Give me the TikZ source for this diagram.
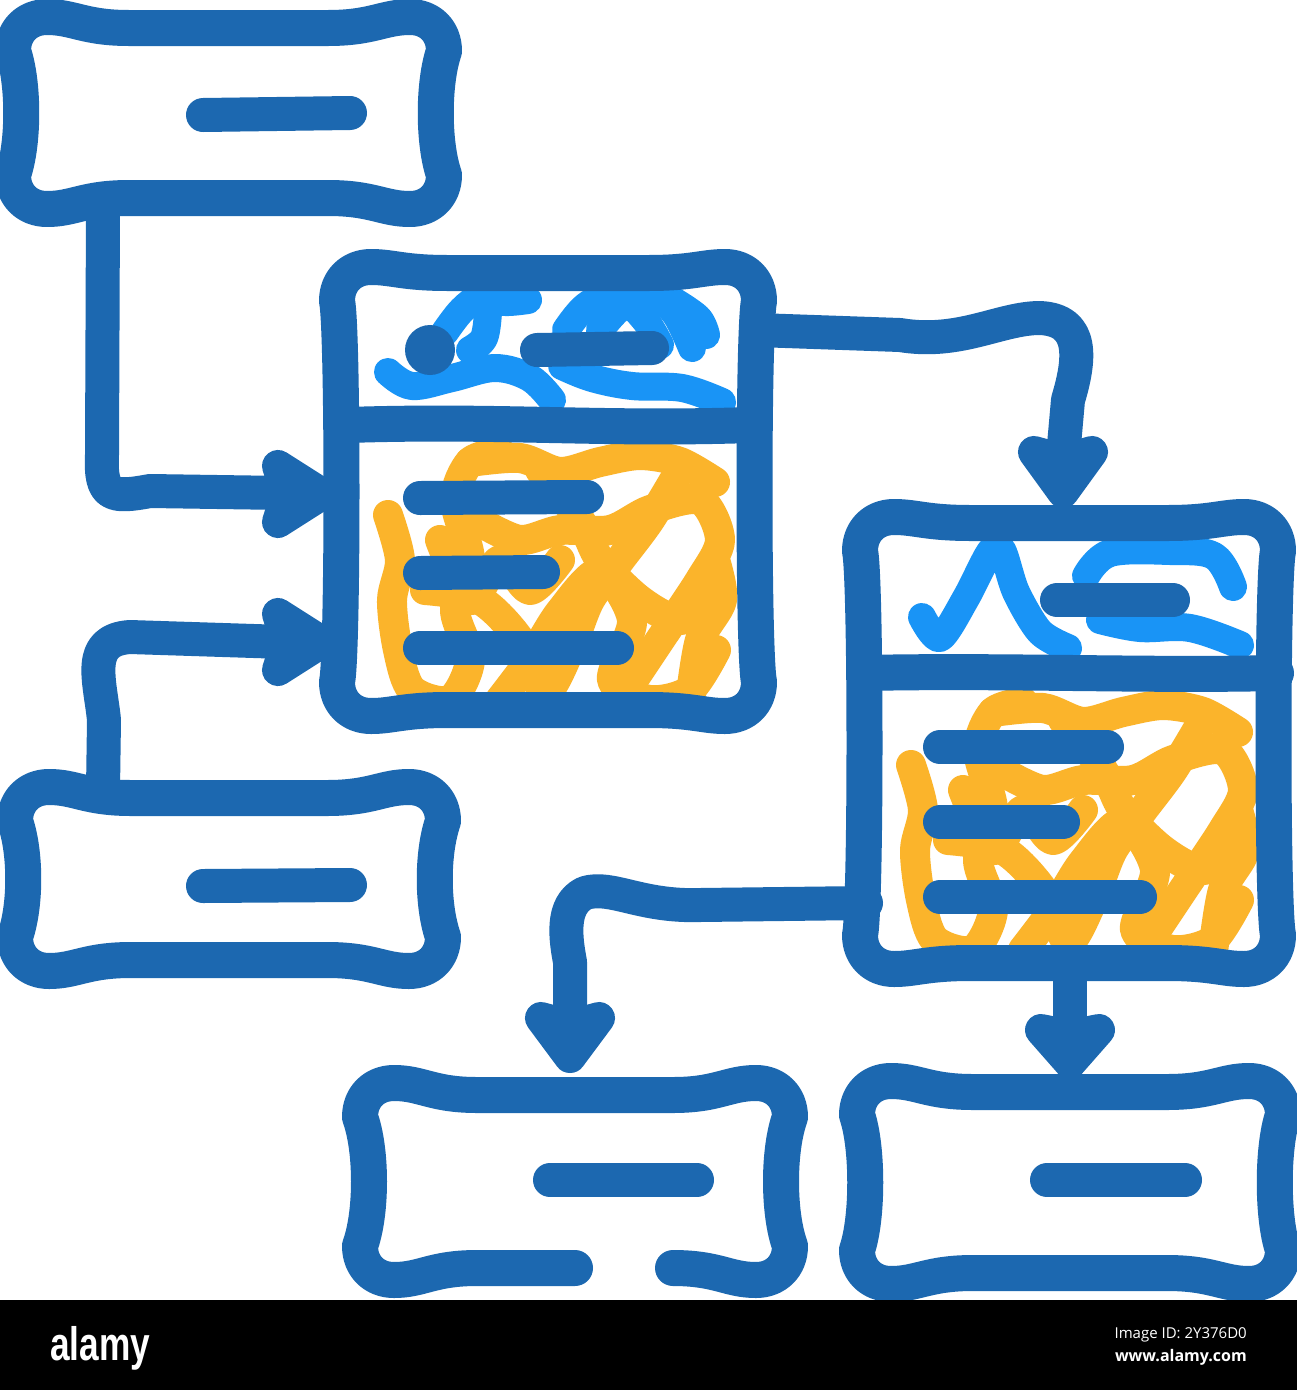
\documentclass[tikz,border=0pt]{standalone}
\usepackage{fontspec}
\setmainfont{Open Sans}
\newfontfamily\logofont{Liberation Sans}
\definecolor{dblue}{HTML}{1C68B0}
\definecolor{lblue}{HTML}{1994F6}
\definecolor{yel}{HTML}{FBB42B}
\newcommand\bonebox[5]{% L T R B flare
  \pgfmathsetmacro\bxL{#1}\pgfmathsetmacro\bxT{#2}\pgfmathsetmacro\bxR{#3}\pgfmathsetmacro\bxB{#4}\pgfmathsetmacro\bxF{#5}%
  \draw[boxline] ({\bxL-\bxF},{\bxT-\bxF+34})
   .. controls ({\bxL-\bxF},{\bxT-\bxF+14}) and ({\bxL-\bxF+14},{\bxT-\bxF}) .. ({\bxL-\bxF+34},{\bxT-\bxF})
   .. controls ({\bxL+50},{\bxT-\bxF}) and ({\bxL+60},{\bxT}) .. ({\bxL+105},{\bxT})
   -- ({\bxR-105},{\bxT})
   .. controls ({\bxR-60},{\bxT}) and ({\bxR-50},{\bxT-\bxF}) .. ({\bxR+\bxF-34},{\bxT-\bxF})
   .. controls ({\bxR+\bxF-14},{\bxT-\bxF}) and ({\bxR+\bxF},{\bxT-\bxF+14}) .. ({\bxR+\bxF},{\bxT-\bxF+34})
   .. controls ({\bxR},{\bxT+55}) and ({\bxR},{\bxB-55}) .. ({\bxR+\bxF},{\bxB+\bxF-34})
   .. controls ({\bxR+\bxF},{\bxB+\bxF-14}) and ({\bxR+\bxF-14},{\bxB+\bxF}) .. ({\bxR+\bxF-34},{\bxB+\bxF})
   .. controls ({\bxR-50},{\bxB+\bxF}) and ({\bxR-60},{\bxB}) .. ({\bxR-105},{\bxB})
   -- ({\bxL+105},{\bxB})
   .. controls ({\bxL+60},{\bxB}) and ({\bxL+50},{\bxB+\bxF}) .. ({\bxL-\bxF+34},{\bxB+\bxF})
   .. controls ({\bxL-\bxF+14},{\bxB+\bxF}) and ({\bxL-\bxF},{\bxB+\bxF-14}) .. ({\bxL-\bxF},{\bxB+\bxF-34})
   .. controls ({\bxL},{\bxB-55}) and ({\bxL},{\bxT+55}) .. cycle;}
\newcommand\yellowtangle{%
  \draw[scribY] plot[smooth, tension=0.5] coordinates {(388,515) (400,560) (392,600) (398,650) (412,690) (450,700) (470,660) (455,610) (470,560) (455,500) (470,462) (500,452)};
  \draw[scribY] plot[smooth, tension=0.5] coordinates {(470,462) (520,458) (560,472) (600,462) (640,455) (680,462) (715,482)};
  \draw[scribY] plot[smooth, tension=0.5] coordinates {(425,590) (480,600) (520,640) (545,692) (570,650) (590,600) (620,560) (650,520) (680,470)};
  \draw[scribY] plot[smooth, tension=0.5] coordinates {(500,700) (530,660) (560,612) (600,572) (632,620) (612,680) (650,700) (690,690) (716,650)};
  \draw[scribY] plot[smooth, tension=0.5] coordinates {(620,700) (660,640) (700,580) (720,540) (700,500) (650,510) (610,530) (560,530) (520,540) (480,522)};
  \draw[scribY] plot[smooth, tension=0.5] coordinates {(540,470) (580,520) (600,560) (640,600) (680,620) (716,600)};
  \draw[scribY] plot[smooth, tension=0.5] coordinates {(690,702) (700,640) (722,600) (715,560)};
  \draw[scribY] plot[smooth, tension=0.5] coordinates {(440,540) (470,600) (500,560) (530,590) (560,560)};
}
\begin{document}
\begin{tikzpicture}[x=1pt,y=-1pt,
  boxline/.style={draw=dblue, line width=36pt, line cap=round, line join=round},
  conn/.style={draw=dblue, line width=34pt, line cap=round, line join=round},
  tipshape/.style={fill=dblue, draw=dblue, line width=32pt, line join=round},
  bar/.style={draw=dblue, line width=34pt, line cap=round},
  scribY/.style={draw=yel, line width=30pt, line cap=round, line join=round},
  scribB/.style={draw=lblue, line width=28pt, line cap=round, line join=round},
  wtext/.style={text=white, inner sep=0pt}]
\useasboundingbox (0,0) rectangle (1297,1390);
\fill[white] (0,0) rectangle (1297,1300);

% ---- scribbles (under the outlines)
\yellowtangle
\begin{scope}[shift={(523,250)}]
  \yellowtangle
\end{scope}
% blue header scribbles, box B
\draw[scribB] plot[smooth, tension=0.6] coordinates {(388,372) (412,386) (452,378) (495,368) (530,378) (552,400)};
\draw[scribB] plot[smooth, tension=0.6] coordinates {(562,366) (592,378) (632,386) (682,388) (722,402)};
\draw[scribB] plot[smooth, tension=0.6] coordinates {(445,332) (462,310) (480,298) (505,302) (528,300)};
\draw[scribB] plot[smooth, tension=0.6] coordinates {(488,312) (484,338) (470,350)};
\draw[scribB] plot[smooth, tension=0.6] coordinates {(566,330) (586,306) (616,292) (650,296) (674,312) (692,348)};
\draw[scribB] plot[smooth, tension=0.6] coordinates {(600,330) (625,305) (645,320) (660,345)};
\draw[scribB] plot[smooth, tension=0.6] coordinates {(672,300) (698,318) (706,335)};
% blue header scribbles, box C
\draw[scribB] plot[smooth, tension=0.5] coordinates {(922,617) (940,638) (966,598) (990,552) (1002,550) (1016,592) (1040,632) (1068,648)};
\draw[scribB] plot[smooth, tension=0.6] coordinates {(1086,576) (1110,553) (1170,551) (1214,556) (1233,587)};
\draw[scribB] plot[smooth, tension=0.6] coordinates {(1100,620) (1140,628) (1190,628) (1240,645)};

% ---- boxes
\bonebox{24}{28}{433}{198}{11}
\coordinate (A) at (228,113);
\bonebox{343}{273}{753}{710}{6}
\coordinate (B) at (548,490);
\bonebox{866}{523}{1272}{963}{6}
\coordinate (C) at (1069,743);
\bonebox{26}{798}{432}{960}{11}
\coordinate (D) at (229,879);
\draw[boxline] (673,1268) .. controls (718,1268) and (728,1280) .. (756,1280)
  .. controls (776,1280) and (790,1266) .. (790,1246)
  .. controls (778,1213) and (778,1150) .. (790,1117)
  .. controls (790,1097) and (776,1083) .. (756,1083)
  .. controls (728,1083) and (718,1095) .. (673,1095) -- (477,1095)
  .. controls (432,1095) and (422,1083) .. (394,1083)
  .. controls (374,1083) and (360,1097) .. (360,1117)
  .. controls (372,1150) and (372,1213) .. (360,1246)
  .. controls (360,1266) and (374,1280) .. (394,1280)
  .. controls (422,1280) and (432,1268) .. (477,1268) -- (575,1268);
\coordinate (E) at (575,1180);
\bonebox{868}{1092}{1272}{1273}{11}
\coordinate (F) at (1070,1182);

% dividers
\draw[boxline] (347,425) .. controls (500,420) and (600,430) .. (751,425);
\draw[boxline] (864,673) .. controls (1000,670) and (1150,676) .. (1276,673);

% ---- bars
\draw[bar] (203,115) -- (350,113);
\fill[dblue] (430,350) circle (25);
\draw[bar] (537,350) -- (652,348);
\draw[bar] (420,498) -- (587,497);
\draw[bar] (420,573) -- (543,572);
\draw[bar] (420,648) -- (617,648);
\draw[bar] (1057,600) -- (1173,600);
\draw[bar] (940,747) -- (1107,747);
\draw[bar] (940,822) -- (1063,822);
\draw[bar] (940,897) -- (1140,897);
\draw[bar] (203,886) -- (350,885);
\draw[bar] (550,1180) -- (697,1180);
\draw[bar] (1047,1180) -- (1185,1180);

% ---- connectors
\coordinate (A-s) at (103,205);
\coordinate (AB-e) at (285,493);
\draw[conn] (A-s) -- (102,455) .. controls (100,497) and (112,498) .. (150,491) -- (AB-e);
\draw[tipshape] (278,466) -- (322,494) -- (278,522) -- (287,494) -- cycle;

\coordinate (D-n) at (103,790);
\coordinate (DB-e) at (285,642);
\draw[conn] (D-n) -- (104,720) .. controls (100,680) and (85,640) .. (130,637) -- (DB-e);
\draw[tipshape] (278,614) -- (322,642) -- (278,670) -- (287,642) -- cycle;

\coordinate (B-e) at (757,330);
\coordinate (BC-e) at (1064,445);
\draw[conn] (B-e) -- (900,335) .. controls (960,345) and (1000,318) .. (1040,318) .. controls (1085,320) and (1080,360) .. (1068,400) -- (BC-e);
\draw[tipshape] (1034,452) -- (1063,492) -- (1092,452) -- (1063,460) -- cycle;

\coordinate (C-w) at (866,903);
\coordinate (CE-e) at (570,1005);
\draw[conn] (C-w) -- (700,905) .. controls (640,907) and (612,885) .. (585,893) .. controls (560,905) and (566,940) .. (570,962) -- (CE-e);
\draw[tipshape] (541,1018) -- (570,1057) -- (599,1018) -- (570,1026) -- cycle;

\coordinate (C-s) at (1070,963);
\coordinate (CF-e) at (1070,1015);
\draw[conn] (C-s) -- (CF-e);
\draw[tipshape] (1041,1030) -- (1070,1063) -- (1099,1030) -- (1070,1036) -- cycle;

% ---- banner
\fill[black] (0,1300) rectangle (1297,1390);
\node[wtext, anchor=base west, font=\logofont\bfseries\fontsize{47}{47}\selectfont, xscale=0.75] (logo) at (50,1360) {alamy};
\node[wtext, anchor=base east, font=\fontsize{15}{15}\selectfont] (imgid) at (1247,1338) {Image ID: 2Y376D0};
\node[wtext, anchor=base east, font=\bfseries\fontsize{16}{16}\selectfont] (url) at (1247,1361) {www.alamy.com};
\end{tikzpicture}
\end{document}
